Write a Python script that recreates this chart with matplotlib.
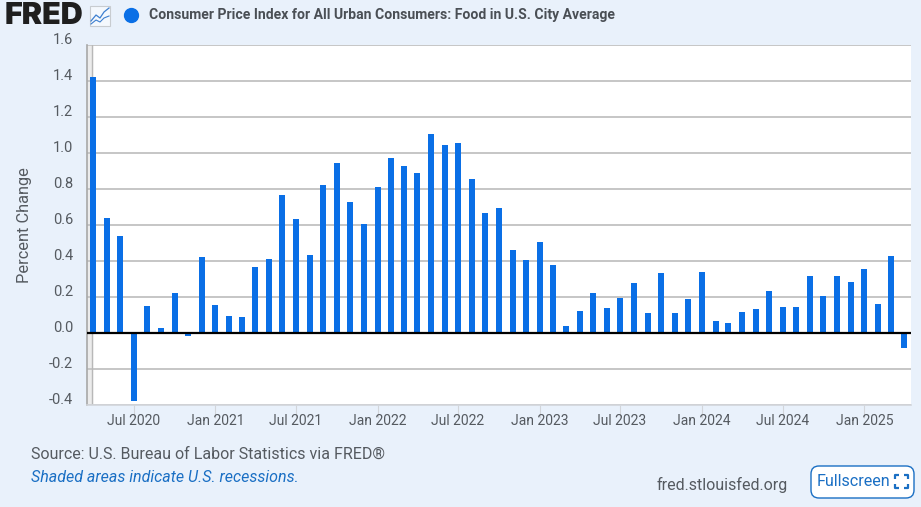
import numpy as np
import pandas as pd
import matplotlib
matplotlib.use('Agg')
import matplotlib.pyplot as plt
import matplotlib.dates as mdates
from matplotlib.patches import Rectangle, FancyBboxPatch

plt.rc('font', family='Roboto')

W, H = 921, 507
bg = '#e9f1fb'
blue = '#0a6fe6'
txt = '#555a60'

dates = pd.date_range('2020-04-01', '2025-04-01', freq='MS')
food = [1.42, 0.64, 0.54, -0.38, 0.15, 0.03, 0.22, -0.014, 0.42,
        0.155, 0.095, 0.09, 0.367, 0.41, 0.767, 0.633, 0.433, 0.822, 0.944, 0.728, 0.605,
        0.809, 0.97, 0.926, 0.887, 1.104, 1.043, 1.054, 0.854, 0.665, 0.693, 0.459, 0.404,
        0.504, 0.376, 0.037, 0.12, 0.22, 0.137, 0.193, 0.276, 0.109, 0.331, 0.109, 0.187,
        0.337, 0.065, 0.054, 0.115, 0.131, 0.231, 0.143, 0.143, 0.315, 0.204, 0.315, 0.281,
        0.354, 0.159, 0.426, -0.085]
y_ticks = [-0.4, -0.2, 0.0, 0.2, 0.4, 0.6, 0.8, 1.0, 1.2, 1.4, 1.6]
x_ticks = ['2020-07-01', '2021-01-01', '2021-07-01', '2022-01-01', '2022-07-01',
           '2023-01-01', '2023-07-01', '2024-01-01', '2024-07-01', '2025-01-01']

fig = plt.figure(figsize=(W / 100, H / 100), dpi=100, facecolor=bg)
ax = fig.add_axes([87 / W, 1 - 405 / H, (911 - 87) / W, (405 - 45) / H], facecolor='white')

ax.bar(dates, food, width=13.5, color=blue, zorder=3)
ax.axhline(0, color='black', lw=1.6, zorder=4)
for v in y_ticks:
    if v != 0:
        ax.axhline(v, color='#c6c6c6', lw=1.4, zorder=1)

ax.set_xlim(pd.Timestamp('2020-03-18'), pd.Timestamp('2025-04-16'))
ax.set_ylim(-0.4, 1.6)

# recession band at the left edge
ax.axvspan(pd.Timestamp('2020-03-18'), pd.Timestamp('2020-03-30'), color='#ececec', zorder=0)
ax.axvline(pd.Timestamp('2020-03-30'), color='#b8b8b8', lw=1.0, zorder=2)

for s in ['top', 'right']:
    ax.spines[s].set_visible(False)
ax.spines['left'].set_color('#a8a8a8')
ax.spines['left'].set_linewidth(1.2)
ax.spines['bottom'].set_color('#d2d5da')
ax.spines['bottom'].set_linewidth(1.2)

ax.set_xticks([pd.Timestamp(d) for d in x_ticks])
ax.xaxis.set_major_formatter(mdates.DateFormatter('%b %Y'))
ax.tick_params(axis='x', length=9, width=0.8, color='#d2d5da', labelsize=10, labelcolor=txt, pad=-2.5)
ax.set_yticks(y_ticks)
ax.set_yticklabels([f'{v:.1f}' for v in y_ticks], fontsize=10.5, color=txt)
ax.tick_params(axis='y', length=0, pad=10)
for lab in ax.get_yticklabels():
    lab.set_transform(lab.get_transform() + matplotlib.transforms.ScaledTranslation(0, 7 / 100, fig.dpi_scale_trans))

# everything outside the plot, in pixel coordinates
ov = fig.add_axes([0, 0, 1, 1], facecolor='none')
ov.set_xlim(0, W)
ov.set_ylim(H, 0)
ov.axis('off')

ov.text(25, 225, 'Percent Change', rotation=90, ha='center', va='center', fontsize=11.8, color=txt)
ov.text(5, 16, 'FRED', fontsize=22, fontweight='black', family='Inter', color='#1f1f1f', va='center', ha='left')
ov.add_patch(Rectangle((89.5, 5.5), 20.5, 20.5, fc='#f4f8fd', ec='#c8ccd0', lw=0.8))
ov.plot([91, 96, 100, 104, 109], [21, 15, 18, 12, 8], color='#3d7fd0', lw=0.9)
ov.plot([91, 96, 100, 104, 109], [24, 20, 22, 18, 16], color='#3d7fd0', lw=0.8)
ov.plot([131], [15], 'o', ms=10, color=blue)
ov.text(149, 15, 'Consumer Price Index for All Urban Consumers: Food in U.S. City Average',
        fontsize=10.05, fontweight='bold', color='#4a4f55', va='center', ha='left')

ov.text(31, 454, 'Source: U.S. Bureau of Labor Statistics via FRED®', fontsize=11.55, color=txt, va='center')
ov.text(31, 477, 'Shaded areas indicate U.S. recessions.', fontsize=11.55, style='italic', color='#1a6fc4', va='center')
ov.text(657, 484.5, 'fred.stlouisfed.org', fontsize=11.5, color=txt, va='center')
ov.add_patch(FancyBboxPatch((811, 466), 103, 32, boxstyle='round,pad=0,rounding_size=8',
                            fc='white', ec='#1a6fc4', lw=1.0))
ov.text(817, 481.5, 'Fullscreen', fontsize=11.6, color='#1a6fc4', va='center')
# fullscreen corner brackets
for cx, cy, dx, dy in [(895, 475, 1, 1), (908, 475, -1, 1), (895, 488, 1, -1), (908, 488, -1, -1)]:
    ov.plot([cx + 4 * dx, cx, cx], [cy, cy, cy + 4 * dy], color='#1a6fc4', lw=1.6, solid_capstyle='butt')

fig.savefig('out.png', dpi=100, facecolor=bg)
